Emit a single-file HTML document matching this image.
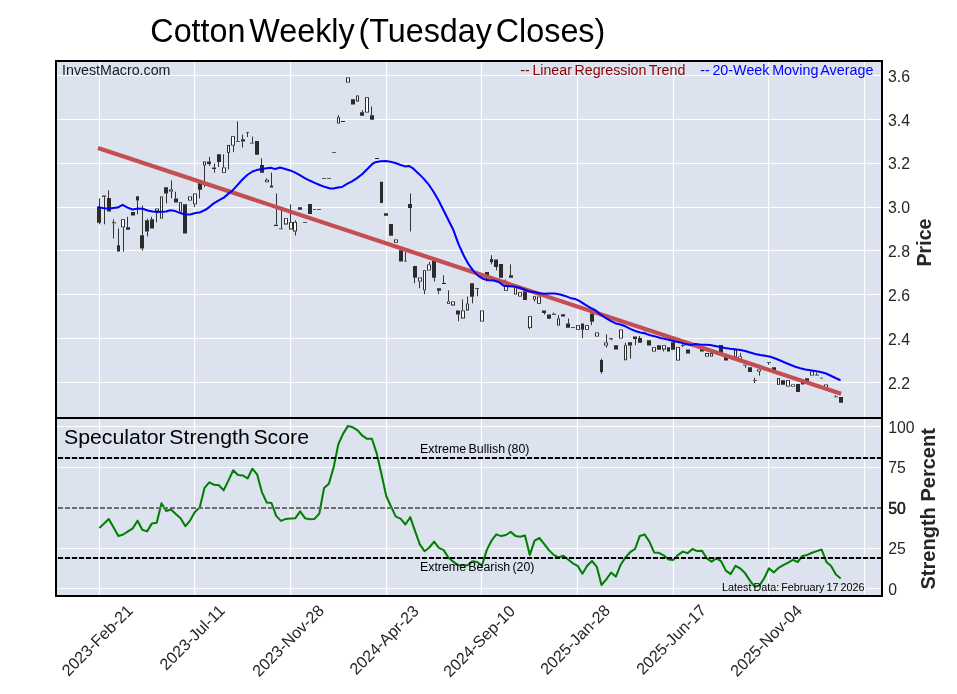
<!DOCTYPE html><html><head><meta charset="utf-8"><title>Cotton Weekly</title><style>html,body{margin:0;padding:0;background:#fff;-webkit-font-smoothing:antialiased}svg{will-change:transform}</style></head><body><svg width="957" height="694" viewBox="0 0 957 694" style="display:block;font-family:'Liberation Sans',Arial,sans-serif">
<rect width="957" height="694" fill="#fff"/>
<rect x="56.0" y="61.0" width="826.0" height="535.0" fill="#dce3ef"/>
<path d="M99.5 61.0V596.0M194.5 61.0V596.0M290.5 61.0V596.0M386.5 61.0V596.0M481.5 61.0V596.0M577.5 61.0V596.0M673.5 61.0V596.0M768.5 61.0V596.0M864.5 61.0V596.0M56.0 75.5H882.0M56.0 119.5H882.0M56.0 163.5H882.0M56.0 207.5H882.0M56.0 250.5H882.0M56.0 294.5H882.0M56.0 338.5H882.0M56.0 382.5H882.0M56.0 426.5H882.0M56.0 467.5H882.0M56.0 507.5H882.0M56.0 548.5H882.0M56.0 588.5H882.0" stroke="#fff" stroke-width="1.2" fill="none"/>
<g id="candles"><path d="M99.5 198.4V207.1M99.5 222.7V224.3M104.5 196.8V224.3M108.5 190.4V198.1M113.5 219.3V222.3M113.5 223.3V238.5M118.5 228.5V245.2M123.5 227.3V251.6M127.5 216.8V227.3M137.5 200.6V214.3M142.5 205.6V235.2M142.5 248.6V250.6M147.5 218.5V220.2M147.5 231.5V236.4M151.5 216.8V219.3M156.5 211.0V222.3M166.5 193.4V203.4M171.5 180.4V189.6M171.5 191.4V198.4M175.5 191.7V198.4M194.5 204.3V207.1M199.5 189.7V198.4M204.5 165.5V186.9M209.5 156.8V161.5M209.5 163.9V166.0M214.5 163.5V167.4M214.5 169.0V172.7M218.5 161.9V166.9M223.5 154.3V167.4M228.5 152.7V169.4M233.5 145.5V152.2M237.5 121.4V140.9M242.5 134.6V139.3M242.5 141.5V147.6M247.5 132.8V136.9M252.5 136.6V142.7M261.5 158.3V165.0M266.5 178.4V179.8M271.5 172.6V185.4M276.5 193.5V224.7M281.5 209.9V228.5M290.5 204.3V222.2M295.5 220.2V221.9M295.5 231.4V235.6M338.5 115.2V117.3M362.5 110.1V112.3M371.5 106.5V115.2M405.5 251.9V260.8M410.5 193.5V204.0M410.5 208.0V231.4M414.5 277.8V283.3M419.5 281.5V288.3M424.5 290.3V294.2M429.5 261.9V264.4M434.5 277.8V281.5M438.5 290.7V294.2M443.5 275.3V283.1M448.5 290.3V301.5M458.5 314.6V321.3M462.5 299.5V310.4M467.5 296.5V303.4M472.5 296.7V303.4M477.5 288.7V296.2M486.5 276.1V281.5M491.5 255.2V259.1M491.5 262.2V264.4M496.5 266.9V270.3M505.5 279.5V286.2M510.5 264.4V275.3M529.5 328.0V329.3M534.5 299.5V301.5M544.5 312.9V314.6M553.5 312.6V313.8M558.5 315.1V318.5M568.5 318.5V323.5M582.5 329.7V338.2M591.5 321.8V325.2M601.5 358.6V359.9M601.5 372.0V373.7M606.5 334.4V342.4M606.5 345.6V347.7M611.5 339.2V340.2M625.5 342.7V345.2M630.5 345.6V358.6M635.5 338.9V345.2M639.5 336.0V338.0M663.5 349.4V351.4M682.5 344.2V345.3M682.5 346.1V347.2M740.5 353.1V356.5M745.5 365.6V367.7M754.5 377.7V380.2M754.5 381.0V383.1M759.5 371.4V375.5M768.5 362.7V364.8M816.5 372.7V374.8M835.5 395.3V396.5" stroke="#333" stroke-width="1" fill="none"/><path d="M97 207.1h4V222.7h-4zM102 195.4h4V196.8h-4zM107 198.1h4V211.5h-4zM112 222.3h4V223.3h-4zM117 245.2h3V251.6h-3zM121 219.3h4V227.3h-4zM126 227.3h4V229.7h-4zM131 212.1h4V215.5h-4zM136 196.2h3V200.6h-3zM140 235.2h4V248.6h-4zM145 220.2h4V231.5h-4zM150 219.3h4V228.5h-4zM155 208.5h4V211.0h-4zM160 196.4h3V218.5h-3zM164 187.2h4V193.4h-4zM169 189.6h4V191.4h-4zM174 198.4h4V202.6h-4zM179 202.3h3V211.5h-3zM183 204.3h4V233.5h-4zM188 196.4h4V200.6h-4zM193 193.4h4V204.3h-4zM198 183.0h4V189.7h-4zM203 161.4h3V165.5h-3zM207 161.5h4V163.9h-4zM212 167.4h4V169.0h-4zM217 154.3h4V161.9h-4zM222 167.4h4V172.7h-4zM227 145.1h3V152.7h-3zM231 136.3h4V145.5h-4zM236 140.9h4V141.7h-4zM241 139.3h4V141.5h-4zM246 132.0h3V132.8h-3zM250 142.7h4V143.5h-4zM255 141.1h4V154.8h-4zM260 165.0h4V172.8h-4zM265 179.8h4V182.3h-4zM270 185.4h3V187.6h-3zM274 224.7h4V226.1h-4zM279 228.5h4V229.3h-4zM284 218.2h4V224.4h-4zM289 222.2h4V229.4h-4zM293 221.9h4V231.4h-4zM298 207.2h4V209.7h-4zM303 222.0h4V222.8h-4zM308 204.0h4V213.9h-4zM313 209.0h3V209.8h-3zM317 209.0h4V209.8h-4zM322 178.0h4V178.8h-4zM327 178.0h4V178.8h-4zM332 151.9h4V152.7h-4zM337 117.3h3V123.5h-3zM341 121.1h4V121.9h-4zM346 77.5h4V82.6h-4zM351 99.3h4V104.6h-4zM356 95.4h3V101.4h-3zM360 112.3h4V115.7h-4zM365 97.3h4V112.6h-4zM370 115.2h4V119.7h-4zM375 158.1h4V158.9h-4zM380 181.8h3V203.0h-3zM384 213.2h4V215.7h-4zM389 224.1h4V235.8h-4zM394 239.4h4V242.8h-4zM399 250.2h4V261.6h-4zM404 260.8h3V261.6h-3zM408 204.0h4V208.0h-4zM413 266.1h4V277.8h-4zM418 277.5h4V281.5h-4zM423 270.3h3V290.3h-3zM427 264.4h4V270.6h-4zM432 261.1h4V277.8h-4zM437 288.2h4V290.7h-4zM442 283.1h4V283.9h-4zM447 301.5h3V303.7h-3zM451 301.5h4V305.4h-4zM456 310.4h4V314.6h-4zM461 310.4h4V318.4h-4zM466 303.4h3V310.4h-3zM470 283.3h4V296.7h-4zM475 287.9h4V288.7h-4zM480 310.4h4V321.6h-4zM485 271.9h4V276.1h-4zM490 259.1h3V262.2h-3zM494 259.4h4V266.9h-4zM499 264.1h4V277.8h-4zM504 286.2h4V290.7h-4zM509 275.3h4V277.8h-4zM514 287.0h3V294.5h-3zM518 292.3h4V296.5h-4zM523 291.2h4V299.9h-4zM528 316.3h4V328.0h-4zM533 296.2h3V299.5h-3zM537 296.5h4V303.7h-4zM542 310.4h4V312.9h-4zM547 314.6h4V318.8h-4zM552 313.8h4V314.8h-4zM557 318.5h3V325.5h-3zM561 314.3h4V316.5h-4zM566 323.5h4V327.7h-4zM571 326.9h4V327.7h-4zM576 325.2h4V329.7h-4zM581 323.5h3V329.7h-3zM585 325.2h4V329.7h-4zM590 313.5h4V321.8h-4zM595 332.4h4V336.5h-4zM600 359.9h3V372.0h-3zM604 342.4h4V345.6h-4zM609 338.2h4V339.2h-4zM614 345.2h4V349.4h-4zM619 329.4h4V338.5h-4zM624 345.2h3V360.3h-3zM628 342.2h4V345.6h-4zM633 336.4h4V338.9h-4zM638 338.0h4V342.7h-4zM643 331.8h3V332.6h-3zM647 340.2h4V345.6h-4zM652 347.2h4V351.6h-4zM657 345.2h4V349.7h-4zM662 345.2h4V349.4h-4zM667 347.2h3V351.6h-3zM671 342.2h4V349.7h-4zM676 346.9h4V360.6h-4zM681 345.3h4V346.1h-4zM686 349.4h4V353.6h-4zM700 347.6h4V351.5h-4zM705 353.1h4V356.5h-4zM710 353.1h3V356.5h-3zM719 345.1h4V353.5h-4zM724 356.8h4V360.5h-4zM734 349.6h3V356.8h-3zM738 356.5h4V358.8h-4zM743 364.8h4V365.6h-4zM748 367.2h4V371.9h-4zM753 380.2h4V381.0h-4zM757 369.4h4V371.4h-4zM767 361.9h4V362.7h-4zM772 367.2h4V371.0h-4zM777 378.0h3V384.7h-3zM781 380.2h4V384.7h-4zM786 379.9h4V386.6h-4zM791 384.4h4V386.6h-4zM796 383.9h4V391.9h-4zM801 381.1h3V384.4h-3zM805 378.2h4V381.6h-4zM810 371.5h4V375.5h-4zM815 374.8h4V375.6h-4zM820 377.8h3V378.6h-3zM824 384.4h4V388.6h-4zM834 396.5h4V397.3h-4zM839 396.9h4V402.8h-4z" fill="#2b2b2b"/><path d="M122 220.1h2V226.5h-2zM156 209.3h2V210.2h-2zM161 197.2h1V217.7h-1zM170 190.2h2V190.8h-2zM180 203.1h1V210.7h-1zM189 197.2h2V199.8h-2zM194 194.2h2V203.5h-2zM204 162.2h1V164.7h-1zM223 168.2h2V171.9h-2zM228 145.9h1V151.9h-1zM232 137.1h2V144.7h-2zM266 180.6h2V181.5h-2zM285 219.0h2V223.6h-2zM290 223.0h2V228.6h-2zM294 222.7h2V230.6h-2zM338 118.1h1V122.7h-1zM347 78.3h2V81.8h-2zM357 96.2h1V100.6h-1zM366 98.1h2V111.8h-2zM395 240.2h2V242.0h-2zM419 278.3h2V280.7h-2zM424 271.1h1V289.5h-1zM428 265.2h2V269.8h-2zM448 302.1h1V303.1h-1zM452 302.3h2V304.6h-2zM462 311.2h2V317.6h-2zM467 304.2h1V309.6h-1zM481 311.2h2V320.8h-2zM505 287.0h2V289.9h-2zM515 287.8h1V293.7h-1zM519 293.1h2V295.7h-2zM529 317.1h2V327.2h-2zM534 297.0h1V298.7h-1zM538 297.3h2V302.9h-2zM558 319.3h1V324.7h-1zM577 326.0h2V328.9h-2zM586 326.0h2V328.9h-2zM596 333.2h2V335.7h-2zM605 343.2h2V344.8h-2zM620 330.2h2V337.7h-2zM625 346.0h1V359.5h-1zM653 348.0h2V350.8h-2zM663 346.0h2V348.6h-2zM677 347.7h2V359.8h-2zM706 353.9h2V355.7h-2zM711 353.9h1V355.7h-1zM735 350.4h1V356.0h-1zM739 357.1h2V358.2h-2zM758 370.0h2V370.8h-2zM778 378.8h1V383.9h-1zM787 380.7h2V385.8h-2zM792 385.0h2V386.0h-2zM811 372.3h2V374.7h-2zM825 385.2h2V387.8h-2z" fill="#fff"/></g>
<line x1="98" y1="148" x2="841.1" y2="393.8" stroke="#c44e52" stroke-width="4.2"/>
<polyline fill="none" stroke="#0000ff" stroke-width="2.05" stroke-linejoin="round" points="97.5,207.1 102.5,208.1 108.4,208.8 113.4,208.1 117.6,207.6 122.6,204.8 127.6,207.6 132.6,209.5 137.7,208.5 142.7,208.8 147.7,210.5 152.7,211.5 156.9,212.1 161.9,211.8 166.1,211.5 170.3,210.3 175.3,211.1 180.3,213.1 185.3,214.5 190.3,214.5 195.4,213.1 199.5,212.6 205.4,209.8 209.6,206.8 213.7,203.4 218.8,200.4 223.8,197.6 228.8,193.4 232.1,190.9 237.2,185.4 242.2,179.7 247.2,175.0 252.5,171.5 256.7,170.1 261.7,168.9 266.8,168.2 270.9,167.7 275.1,169.1 280.1,167.6 285.1,168.9 290.2,170.4 295.2,172.6 300.2,175.4 305.2,178.4 310.2,180.8 315.3,183.1 320.3,185.3 325.3,187.1 330.3,188.5 333.6,188.6 337.8,187.5 342.0,187.0 347.0,183.9 352.0,181.4 357.0,178.1 362.1,174.2 367.1,169.2 372.1,164.2 375.4,162.2 380.5,161.2 385.5,161.0 390.5,161.7 395.5,163.0 400.0,164.7 405.0,166.4 409.2,166.0 413.4,168.7 418.4,173.4 423.4,178.4 428.5,184.3 433.5,191.8 438.5,200.2 443.5,210.2 448.5,220.2 453.5,230.3 458.6,244.4 463.6,255.2 468.6,264.4 473.6,271.1 478.6,276.1 483.6,279.1 488.7,280.3 493.7,280.6 498.7,282.0 503.7,285.8 508.7,286.2 513.7,286.5 518.8,287.5 523.8,289.2 528.8,291.2 533.8,292.0 538.8,292.9 543.8,293.7 550.0,293.4 555.0,293.6 560.1,294.4 565.1,295.9 570.1,297.9 575.1,298.9 580.1,301.3 585.1,304.6 590.2,307.6 595.2,310.1 600.2,314.3 605.2,317.6 610.2,320.7 615.2,323.2 620.3,324.5 625.3,326.3 630.3,328.9 635.3,331.0 640.3,332.4 645.3,333.5 650.3,335.2 655.4,336.5 660.4,338.0 665.4,339.0 670.4,340.2 675.4,341.4 680.4,342.4 685.5,344.1 690.5,344.9 695.5,343.9 700.0,344.6 705.0,344.8 710.1,345.1 715.1,345.9 720.1,347.1 725.1,348.1 730.1,348.8 735.1,349.3 740.2,350.1 745.2,351.0 750.2,352.6 755.2,354.0 760.2,355.1 765.2,355.8 770.3,356.8 775.3,358.5 780.3,360.5 785.3,362.7 790.3,364.8 795.3,366.8 800.3,368.2 805.4,369.4 810.4,370.2 815.4,370.9 820.4,371.9 825.4,373.2 830.4,375.5 835.5,378.0 840.5,380.2"/>
<polyline fill="none" stroke="#008000" stroke-width="2.05" stroke-linejoin="round" points="99.3,528.0 104.1,523.4 108.8,518.9 113.6,527.6 118.4,536.0 123.2,534.5 128.0,531.4 132.8,528.3 137.5,520.7 142.3,529.7 147.1,531.4 151.9,523.4 156.7,522.8 161.5,503.2 166.2,510.9 171.0,509.4 175.8,514.0 180.6,518.2 185.4,526.2 190.2,520.3 194.9,512.0 199.7,507.4 204.5,487.9 209.3,482.3 214.1,484.8 218.9,485.2 223.6,490.4 228.4,480.6 233.2,470.2 238.0,475.0 242.8,475.4 247.6,478.5 252.3,468.7 257.1,474.3 261.9,492.1 266.7,502.5 271.5,503.0 276.3,516.1 281.0,520.9 285.8,518.9 290.6,518.6 295.4,518.2 300.2,511.3 305.0,518.2 309.7,519.3 314.5,518.9 319.3,513.6 324.1,487.9 328.9,483.7 333.7,467.0 338.4,444.0 343.2,433.6 348.0,425.9 352.8,427.3 357.6,430.4 362.4,435.7 367.1,438.8 371.9,438.8 376.7,453.4 381.5,474.3 386.3,496.3 391.1,506.7 395.8,516.6 400.6,518.6 405.4,524.5 410.2,517.2 415.0,530.8 419.8,544.3 424.5,551.2 429.3,547.5 434.1,541.6 438.9,547.9 443.7,550.1 448.5,557.8 453.2,561.6 458.0,565.1 462.8,565.3 467.6,565.3 472.4,561.2 477.2,562.0 481.9,565.8 486.7,550.1 491.5,540.7 496.3,534.4 501.1,536.1 505.9,535.0 510.7,531.9 515.4,535.9 520.2,536.7 525.0,535.5 529.8,554.9 534.6,540.7 539.4,538.0 544.1,543.8 548.9,550.1 553.7,554.9 558.5,557.4 563.3,555.7 568.1,559.5 572.8,563.3 577.6,565.8 582.4,573.7 587.2,565.8 592.0,561.0 596.8,566.8 601.5,585.0 606.3,579.3 611.1,572.5 615.9,576.6 620.7,564.7 625.5,557.4 630.2,552.2 635.0,549.0 639.8,535.9 644.6,534.4 649.4,541.7 654.2,552.6 658.9,552.8 663.7,555.3 668.5,559.5 673.3,559.9 678.1,554.9 682.9,551.6 687.6,553.2 692.4,549.0 697.2,551.1 702.0,550.7 706.8,558.4 711.6,561.6 716.3,558.4 721.1,561.2 725.9,570.6 730.7,574.1 735.5,565.8 740.3,568.5 745.0,573.1 749.8,580.4 754.6,586.7 759.4,585.6 764.2,578.3 769.0,568.3 773.7,572.5 778.5,567.9 783.3,565.1 788.1,562.6 792.9,559.9 797.7,562.0 802.4,555.9 807.2,554.9 812.0,552.8 816.8,551.1 821.6,549.5 826.4,561.9 831.1,566.0 835.9,574.4 840.7,578.6"/>
<path d="M57.9 458H882.0M57.9 558H882.0" stroke="#000" stroke-width="2" stroke-dasharray="5.2 1.8" fill="none"/>
<path d="M57.9 508H882.0" stroke="#6e6e6e" stroke-width="1.8" stroke-dasharray="5.2 1.8" fill="none"/>
<rect x="56.0" y="61.0" width="826.0" height="535.0" fill="none" stroke="#000" stroke-width="2"/>
<path d="M56.0 418.0H883.0" stroke="#000" stroke-width="2"/>
<text x="150.3" y="42.1" font-size="32.3" word-spacing="-5.17" fill="#000" textLength="455" lengthAdjust="spacingAndGlyphs">Cotton Weekly (Tuesday Closes)</text>
<text x="62" y="74.8" font-size="14" word-spacing="-1.29" fill="#1a1a1a" textLength="108.5" lengthAdjust="spacingAndGlyphs">InvestMacro.com</text>
<text x="520.3" y="75.2" font-size="14" word-spacing="-1.29" fill="#8b0000" textLength="165" lengthAdjust="spacingAndGlyphs">-- Linear Regression Trend</text>
<text x="700.2" y="75.1" font-size="14" word-spacing="-1.29" fill="#0000ff" textLength="173.2" lengthAdjust="spacingAndGlyphs">-- 20-Week Moving Average</text>
<text x="64" y="443.8" font-size="20.5" word-spacing="-2.19" fill="#000" textLength="245" lengthAdjust="spacingAndGlyphs">Speculator Strength Score</text>
<text x="420" y="452.6" font-size="12" word-spacing="-1.10" fill="#000" textLength="109.5" lengthAdjust="spacingAndGlyphs">Extreme Bullish (80)</text>
<text x="420" y="570.7" font-size="12" word-spacing="-1.10" fill="#000" textLength="114.5" lengthAdjust="spacingAndGlyphs">Extreme Bearish (20)</text>
<text x="722" y="590.5" font-size="10.5" word-spacing="-0.97" fill="#000" textLength="142.5" lengthAdjust="spacingAndGlyphs">Latest Data: February 17 2026</text>
<text x="888" y="81.7" font-size="15.8" word-spacing="-1.45" fill="#262626">3.6</text>
<text x="888" y="125.5" font-size="15.8" word-spacing="-1.45" fill="#262626">3.4</text>
<text x="888" y="169.4" font-size="15.8" word-spacing="-1.45" fill="#262626">3.2</text>
<text x="888" y="213.2" font-size="15.8" word-spacing="-1.45" fill="#262626">3.0</text>
<text x="888" y="257.1" font-size="15.8" word-spacing="-1.45" fill="#262626">2.8</text>
<text x="888" y="300.9" font-size="15.8" word-spacing="-1.45" fill="#262626">2.6</text>
<text x="888" y="344.7" font-size="15.8" word-spacing="-1.45" fill="#262626">2.4</text>
<text x="888" y="388.6" font-size="15.8" word-spacing="-1.45" fill="#262626">2.2</text>
<text x="888.3" y="595.1" font-size="15.8" word-spacing="-1.45" fill="#262626">0</text>
<text x="888.3" y="553.8" font-size="15.8" word-spacing="-1.45" fill="#262626">25</text>
<text x="888.3" y="513.9" font-size="15.8" word-spacing="-1.45" fill="#262626">50</text>
<text x="888.3" y="472.9" font-size="15.8" word-spacing="-1.45" fill="#262626">75</text>
<text x="888.3" y="432.8" font-size="15.8" word-spacing="-1.45" fill="#262626">100</text>
<text x="888.3" y="513.9" font-size="15.8" word-spacing="-1.45" fill="#262626" stroke="#262626" stroke-width="0.35">50</text>
<text transform="translate(931.3,242.5) rotate(-90)" text-anchor="middle" font-size="20.6" font-weight="bold" fill="#262626" textLength="48" lengthAdjust="spacingAndGlyphs">Price</text>
<text transform="translate(934.9,508.8) rotate(-90)" text-anchor="middle" font-size="20.6" font-weight="bold" fill="#262626" textLength="161.5" lengthAdjust="spacingAndGlyphs">Strength Percent</text>
<text transform="translate(97.0,640.2) rotate(-45)" text-anchor="middle" font-size="16.15" fill="#262626" dy="5.75">2023-Feb-21</text>
<text transform="translate(192.0,637.2) rotate(-45)" text-anchor="middle" font-size="16.15" fill="#262626" dy="5.75">2023-Jul-11</text>
<text transform="translate(288.0,640.5) rotate(-45)" text-anchor="middle" font-size="16.15" fill="#262626" dy="5.75">2023-Nov-28</text>
<text transform="translate(384.0,639.8) rotate(-45)" text-anchor="middle" font-size="16.15" fill="#262626" dy="5.75">2024-Apr-23</text>
<text transform="translate(479.0,641.0) rotate(-45)" text-anchor="middle" font-size="16.15" fill="#262626" dy="5.75">2024-Sep-10</text>
<text transform="translate(575.0,639.5) rotate(-45)" text-anchor="middle" font-size="16.15" fill="#262626" dy="5.75">2025-Jan-28</text>
<text transform="translate(671.0,639.5) rotate(-45)" text-anchor="middle" font-size="16.15" fill="#262626" dy="5.75">2025-Jun-17</text>
<text transform="translate(766.0,640.5) rotate(-45)" text-anchor="middle" font-size="16.15" fill="#262626" dy="5.75">2025-Nov-04</text>
</svg></body></html>
